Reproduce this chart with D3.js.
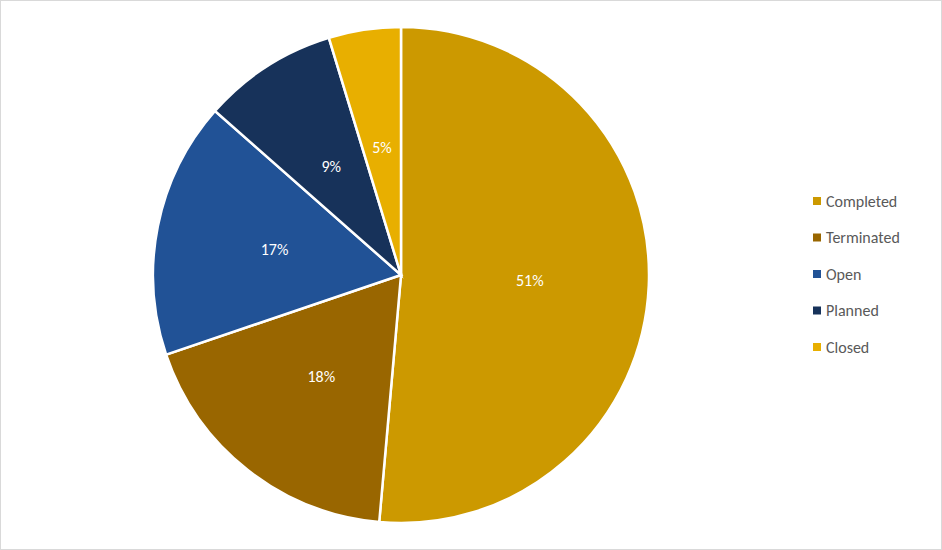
<!DOCTYPE html>
<html>
<head>
<meta charset="UTF-8">
<script src="https://cdn.jsdelivr.net/npm/d3@7"></script>
<style>
  body {margin: 0; background: #fff; font-family: Calibri, Carlito, "Liberation Sans", sans-serif;}
</style>
</head>
<body>
<svg id="chart" width="942" height="550"></svg>
<script>
var categories = ["Completed", "Terminated", "Open", "Planned", "Closed"];
var values     = [51.4, 18.4, 16.7, 8.8, 4.7];
var colors     = ["#CC9900", "#996600", "#215296", "#17325A", "#E8AF00"];

var svg = d3.select("#chart");
svg.append("rect").attr("x", 0.5).attr("y", 0.5).attr("width", 941).attr("height", 549)
  .attr("fill", "#fff").attr("stroke", "#d9d9d9");

var cx = 401, cy = 275, r = 248;
var pie = d3.pie().sort(null).value(function(d){ return d; });
var arcs = pie(values);
var arc = d3.arc().innerRadius(0).outerRadius(r);
var labelArc = d3.arc().innerRadius(r * 0.52).outerRadius(r * 0.52);

var g = svg.append("g").attr("transform", "translate(" + cx + "," + cy + ")");
g.selectAll("path").data(arcs).enter().append("path")
  .attr("d", arc)
  .attr("fill", function(d, i){ return colors[i]; })
  .attr("stroke", "#fff").attr("stroke-width", 2.5);

g.selectAll("text").data(arcs).enter().append("text")
  .attr("transform", function(d){ return "translate(" + labelArc.centroid(d) + ")"; })
  .attr("text-anchor", "middle").attr("dy", "0.35em")
  .attr("fill", "#fff").style("font-size", "16px")
  .text(function(d){ return Math.round(d.value) + "%"; });

var leg = svg.append("g").selectAll("g").data(categories).enter().append("g")
  .attr("transform", function(d, i){ return "translate(813," + (201 + i * 36.5) + ")"; });
leg.append("rect").attr("x", 0).attr("y", -4).attr("width", 8).attr("height", 8)
  .attr("fill", function(d, i){ return colors[i]; });
leg.append("text").attr("x", 13).attr("dy", "0.35em")
  .attr("fill", "#595959").style("font-size", "16px")
  .text(function(d){ return d; });
</script>
</body>
</html>
